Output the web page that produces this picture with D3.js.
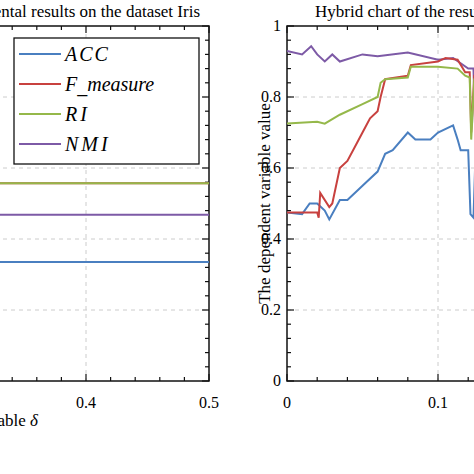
<!DOCTYPE html>
<html><head><meta charset="utf-8">
<script src="https://cdn.jsdelivr.net/npm/d3@7"></script>
<style>body{margin:0;background:#fff}</style>
</head><body><svg id="c" width="474" height="474"></svg>
<script>
const seriesNames = ['ACC', 'F_measure', 'RI', 'NMI'];
const colors = { ACC: '#4a7fc0', F_measure: '#c8413f', RI: '#95b84a', NMI: '#7d5aa6' };
const xTicks = [0, 0.1, 0.2, 0.3, 0.4, 0.5];
const yTicks = [0, 0.2, 0.4, 0.6, 0.8, 1];

// left panel: constant values after convergence
const leftX = [0, 0.5];
const leftValues = { ACC: 0.335, F_measure: 0.557, RI: 0.557, NMI: 0.468 };

// right panel: hybrid chart, x = delta
const accPts = [[0,.475],[.01,.47],[.015,.5],[.02,.5],[.025,.48],[.028,.455],[.035,.51],[.04,.51],[.05,.55],[.06,.59],[.065,.64],[.07,.65],[.08,.70],[.085,.68],[.095,.68],[.1,.70],[.11,.72],[.113,.68],[.115,.65],[.12,.65],[.1215,.47],[.1235,.46],[.125,.66],[.13,.66]];
const fPts = [[0,.475],[.02,.475],[.021,.46],[.022,.53],[.028,.49],[.03,.5],[.035,.6],[.04,.62],[.045,.66],[.05,.70],[.055,.74],[.06,.76],[.062,.80],[.065,.85],[.08,.86],[.082,.89],[.1,.90],[.105,.91],[.113,.905],[.118,.87],[.121,.87],[.122,.70],[.124,.86],[.13,.87]];
const riPts = [[0,.725],[.02,.73],[.025,.725],[.035,.75],[.05,.78],[.06,.80],[.062,.84],[.065,.85],[.08,.855],[.082,.885],[.1,.885],[.113,.88],[.118,.86],[.121,.855],[.122,.68],[.124,.85],[.13,.86]];
const nmiPts = [[0,.93],[.01,.92],[.016,.943],[.02,.92],[.025,.90],[.03,.92],[.035,.90],[.05,.92],[.06,.915],[.08,.925],[.1,.905],[.11,.91],[.12,.88],[.1235,.88],[.125,.64],[.127,.66],[.13,.66]];
const rightSeries = { ACC: accPts, F_measure: fPts, RI: riPts, NMI: nmiPts };

const svg = d3.select('#c');
const font = 'Liberation Serif, DejaVu Serif, serif';
const yTop = 26, yBot = 381;
const y = d3.scaleLinear().domain([0, 1]).range([yBot, yTop]);

function panel(x0, x1, clipId) {
  const x = d3.scaleLinear().domain([0, 0.5]).range([x0, x1]);
  const g = svg.append('g');
  const left = Math.max(x0, -5), right = Math.min(x1, 480);
  // grid
  g.selectAll('.gx').data(xTicks.slice(1, -1)).join('line')
    .attr('x1', d => x(d)).attr('x2', d => x(d)).attr('y1', yTop).attr('y2', yBot)
    .attr('stroke', '#ccc').attr('stroke-dasharray', '4,4');
  g.selectAll('.gy').data(yTicks.slice(1, -1)).join('line')
    .attr('x1', left).attr('x2', right).attr('y1', d => y(d)).attr('y2', d => y(d))
    .attr('stroke', '#ccc').attr('stroke-dasharray', '4,4');
  svg.append('clipPath').attr('id', clipId).append('rect')
    .attr('x', x0).attr('y', yTop).attr('width', x1 - x0).attr('height', yBot - yTop);
  // frame ticks
  const minorX = d3.range(0, 0.5001, 0.02), minorY = d3.range(0, 1.0001, 0.04);
  const tk = g.append('g').attr('stroke', '#111').attr('stroke-width', 1.2);
  minorX.forEach(v => {
    const major = Math.abs(v * 10 - Math.round(v * 10)) < 1e-6;
    const l = major ? 7 : 4;
    tk.append('line').attr('x1', x(v)).attr('x2', x(v)).attr('y1', yBot).attr('y2', yBot - l);
    tk.append('line').attr('x1', x(v)).attr('x2', x(v)).attr('y1', yTop).attr('y2', yTop + l);
  });
  minorY.forEach(v => {
    const major = Math.abs(v * 5 - Math.round(v * 5)) < 1e-6;
    const l = major ? 7 : 4;
    tk.append('line').attr('x1', x0).attr('x2', x0 + l).attr('y1', y(v)).attr('y2', y(v));
    tk.append('line').attr('x1', x1).attr('x2', x1 - l).attr('y1', y(v)).attr('y2', y(v));
  });
  g.append('rect').attr('x', x0).attr('y', yTop).attr('width', x1 - x0).attr('height', yBot - yTop)
    .attr('fill', 'none').attr('stroke', '#111').attr('stroke-width', 1.5);
  g.selectAll('.xl').data(xTicks).join('text')
    .attr('x', d => x(d)).attr('y', yBot + 27).attr('text-anchor', 'middle')
    .attr('font-family', font).attr('font-size', 16).text(d => d);
  g.selectAll('.yl').data(yTicks).join('text')
    .attr('x', x0 - 6).attr('y', d => y(d) + 5).attr('text-anchor', 'end')
    .attr('font-family', font).attr('font-size', 16).text(d => d);
  return x;
}

// left panel
const xl = panel(-406, 209, 'clipL');
const lineL = d3.line().x(d => xl(d[0])).y(d => y(d[1]));
const lg = svg.append('g').attr('clip-path', 'url(#clipL)');
seriesNames.forEach(n => {
  lg.append('path').datum(leftX.map(v => [v, leftValues[n]])).attr('d', lineL)
    .attr('fill', 'none').attr('stroke', colors[n]).attr('stroke-width', 2);
});
svg.append('text').attr('x', 200).attr('y', 17).attr('text-anchor', 'end')
  .attr('font-family', font).attr('font-size', 17).text('Experimental results on the dataset Iris');
svg.append('text').attr('x', 38).attr('y', 426).attr('text-anchor', 'end')
  .attr('font-family', font).attr('font-size', 17)
  .html('The value of the variable <tspan font-style="italic">δ</tspan>');

// legend
const leg = svg.append('g');
leg.append('rect').attr('x', 14).attr('y', 38).attr('width', 185).attr('height', 126)
  .attr('fill', '#fff').attr('stroke', '#111').attr('stroke-width', 1.3);
seriesNames.forEach((n, i) => {
  const yy = 54 + i * 30;
  leg.append('line').attr('x1', 19).attr('x2', 61).attr('y1', yy).attr('y2', yy)
    .attr('stroke', colors[n]).attr('stroke-width', 2);
  const t = leg.append('text').attr('x', 65).attr('y', yy + 7)
    .attr('font-family', font).attr('font-size', 20).attr('font-style', 'italic');
  if (n === 'F_measure') t.html('F<tspan dy="2">_</tspan><tspan dy="-2">measure</tspan>');
  else if (n === 'ACC') t.attr('letter-spacing', 2).text(n);
  else t.attr('letter-spacing', 3).text(n);
});

// right panel
const xr = panel(287, 287 + 151 * 5, 'clipR');
const lineR = d3.line().x(d => xr(d[0])).y(d => y(d[1]));
const rg = svg.append('g').attr('clip-path', 'url(#clipR)');
['ACC', 'NMI', 'F_measure', 'RI'].forEach(n => {
  rg.append('path').datum(rightSeries[n]).attr('d', lineR)
    .attr('fill', 'none').attr('stroke', colors[n]).attr('stroke-width', 2);
});
svg.append('text').attr('x', 315).attr('y', 17)
  .attr('font-family', font).attr('font-size', 17).text('Hybrid chart of the results');
svg.append('text').attr('transform', 'translate(270,' + ((yTop + yBot) / 2) + ') rotate(-90)')
  .attr('text-anchor', 'middle').attr('font-family', font).attr('font-size', 17)
  .text('The dependent variable value');
</script></body></html>
